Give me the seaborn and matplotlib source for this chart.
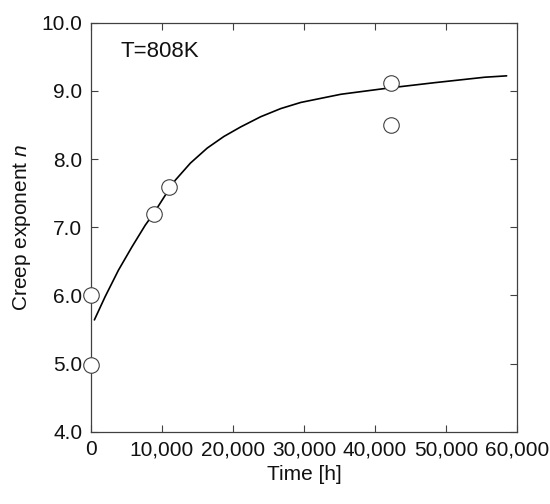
import numpy as np
import pandas as pd
import matplotlib
matplotlib.use("Agg")
import matplotlib.pyplot as plt
import seaborn as sns

# measured points (open circles)
time_pts = [0, 0, 8840, 11060, 42180, 42180]
n_pts = [6.0, 4.98, 7.20, 7.59, 9.12, 8.50]

# fitted curve
time_fit = [510, 2020, 3900, 5790, 7670, 8840, 10490, 11900, 14020, 16380, 18720, 21080,
            23900, 26730, 29550, 32840, 35200, 41800, 48380, 55440, 58500]
n_fit = [5.64, 5.98, 6.37, 6.71, 7.03, 7.20, 7.47, 7.69, 7.94, 8.16, 8.33, 8.47,
         8.62, 8.74, 8.83, 8.90, 8.95, 9.04, 9.12, 9.20, 9.22]

x_ticks = [0, 10000, 20000, 30000, 40000, 50000, 60000]
y_ticks = [4.0, 5.0, 6.0, 7.0, 8.0, 9.0, 10.0]

sns.set_style("ticks")
plt.rcParams['font.family'] = ['Liberation Sans', 'DejaVu Sans']
plt.rcParams['mathtext.fontset'] = 'custom'
plt.rcParams['mathtext.it'] = 'Liberation Sans:italic'

df_pts = pd.DataFrame({'Time': time_pts, 'n': n_pts})
df_fit = pd.DataFrame({'Time': time_fit, 'n': n_fit})

fig = plt.figure(figsize=(5.5, 5.04), dpi=100)
ax = fig.add_axes([0.165, 0.1435, 0.7755, 0.8115])

sns.lineplot(x='Time', y='n', data=df_fit, color='black', linewidth=1.2, ax=ax)
sns.scatterplot(x='Time', y='n', data=df_pts, s=125, facecolor='white',
                edgecolor='#404040', linewidth=0.8, clip_on=False, zorder=5, ax=ax)

ax.set_xlim(0, 60000)
ax.set_ylim(4.0, 10.0)
ax.set_xticks(x_ticks)
ax.set_xticklabels([f"{v:,}" for v in x_ticks])
ax.set_yticks(y_ticks)
ax.set_yticklabels([f"{v:.1f}" for v in y_ticks])

ax.tick_params(direction='in', length=5, width=0.8, color='#404040',
               top=True, right=True, labelsize=15, pad=6, labelcolor='#111111')
for sp in ax.spines.values():
    sp.set_visible(True)
    sp.set_color('#404040')
    sp.set_linewidth(0.9)

ax.set_xlabel("Time [h]", fontsize=15, labelpad=4, color='#111111')
ax.set_ylabel("Creep exponent $n$", fontsize=15, labelpad=6, color='#111111')
ax.text(0.069, 0.915, "T=808K", transform=ax.transAxes, fontsize=16, color='#111111')

fig.savefig("out.png", dpi=100)
